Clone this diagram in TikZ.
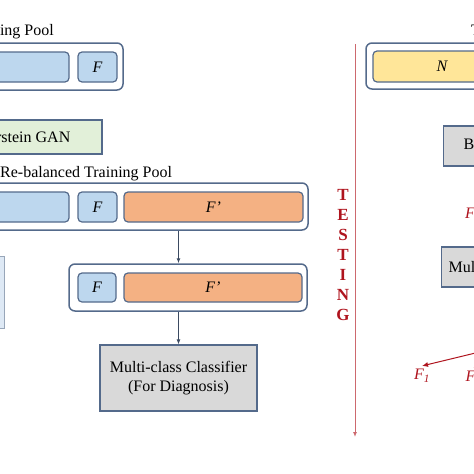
\documentclass[tikz,border=0pt]{standalone}
\usepackage{fontspec}
\setmainfont{Liberation Serif}
\usetikzlibrary{arrows.meta}
\definecolor{bord}{RGB}{84,106,139}
\definecolor{blu}{RGB}{189,215,238}
\definecolor{pale}{RGB}{222,233,245}
\definecolor{org}{RGB}{244,177,131}
\definecolor{yel}{RGB}{255,230,153}
\definecolor{grn}{RGB}{226,240,217}
\definecolor{gry}{RGB}{217,217,217}
\definecolor{dred}{RGB}{175,20,30}
\definecolor{lred}{RGB}{205,105,110}
\newcommand{\txt}{\fontsize{16}{19}\selectfont}

\begin{document}
\begin{tikzpicture}[x=1pt, y=-1pt,
		pool/.style={draw=bord, line width=1.5pt, rounded corners=6pt, minimum height=47pt},
		cell/.style={draw=bord, line width=1.2pt, rounded corners=4pt, inner sep=0pt, minimum height=30pt, font=\txt\itshape},
		plain/.style={draw=bord, line width=1.2pt, font=\txt, align=center},
		arr/.style={-{Latex[length=5pt,width=4pt]}, draw=bord!70!black, line width=1pt},
		testarr/.style={-{Latex[length=6pt,width=5pt]}, draw=dred, line width=1pt},
		fred/.style={text=dred, font=\txt\itshape}]
	\useasboundingbox (0,0) rectangle (474,474);
	\clip (0,0) rectangle (474,474);

	% training pool
	\node[anchor=base east, font=\txt, inner sep=0pt] (trainlbl) at (54,35) {Training Pool};
	\node[pool, minimum width=183pt] (pool1) at (31.5,66.5) {};
	\node[cell, fill=blu, minimum width=119pt] (n1) at (9.5,67) {};
	\node[cell, fill=blu, minimum width=39pt] (f1) at (97.5,67) {F};

	\node[plain, fill=grn, minimum width=178pt, minimum height=34pt] (gan) at (13,137) {Wasserstein GAN};

	% re-balanced pool
	\node[anchor=base west, font=\txt, inner sep=0pt] (rblbl) at (0,177) {Re-balanced Training Pool};
	\node[pool, minimum width=368pt] (pool2) at (124,206.5) {};
	\node[cell, fill=blu, minimum width=119pt] (n2) at (9.5,207) {};
	\node[cell, fill=blu, minimum width=39pt] (f2) at (97.5,207) {F};
	\node[cell, fill=org, minimum width=179pt] (fp2) at (213.5,207) {F’};

	\node[pool, minimum width=238pt] (pool3) at (188,287.5) {};
	\node[cell, fill=blu, minimum width=38pt, minimum height=29pt] (f3) at (97,287.5) {F};
	\node[cell, fill=org, minimum width=178pt, minimum height=29pt] (fp3) at (213,287.5) {F’};

	\node[plain, fill=gry, minimum width=157pt, minimum height=66pt] (cls) at (178.5,378) {Multi-class Classifier\\(For Diagnosis)};

	\draw[arr] (pool2.south -| cls.north) -- (pool3.north -| cls.north);
	\draw[arr] (pool3.south -| cls.north) -- (cls.north);

	\node[draw=bord!60, line width=1pt, fill=pale, minimum width=64pt, minimum height=72pt] (side) at (-28,292) {};

	% testing
	\coordinate (ttop) at (355,44);
	\coordinate (tbot) at (355,437);
	\draw[lred, line width=1pt, -{Latex[length=5pt,width=4pt]}] (ttop) -- (tbot);
	\foreach \c [count=\i] in {T,E,S,T,I,N,G}
		\node[text=dred, font=\fontsize{17}{17}\selectfont\bfseries] (t\i) at (343,175+20*\i) {\c};

	\node[anchor=base west, font=\txt, inner sep=0pt] (testlbl) at (471,35) {Testing Pool};
	\node[pool, minimum width=152pt, minimum height=46pt] (pool4) at (442,66) {};
	\node[cell, fill=yel, minimum width=138pt, minimum height=31pt] (n4) at (442,66.5) {N};

	\node[plain, fill=gry, anchor=west, minimum height=40pt, inner xsep=20pt] (bin) at (443,146) {Binary Classifier};
	\node[fred, anchor=west, inner sep=0pt] (fl) at (465,213) {F};
	\node[plain, fill=gry, anchor=west, minimum height=40pt, inner xsep=7pt] (mcls) at (441,267) {Multi-class Classifier};

	\coordinate (src) at (492,349);
	\node[fred] (fa) at (422,376) {F\textsubscript{1}};
	\node[fred, anchor=west] (fb) at (462,378) {F\textsubscript{2}};
	\draw[testarr] (src) -- (fa.north);
	\draw[testarr] (src) -- (fb.north);
\end{tikzpicture}
\end{document}
